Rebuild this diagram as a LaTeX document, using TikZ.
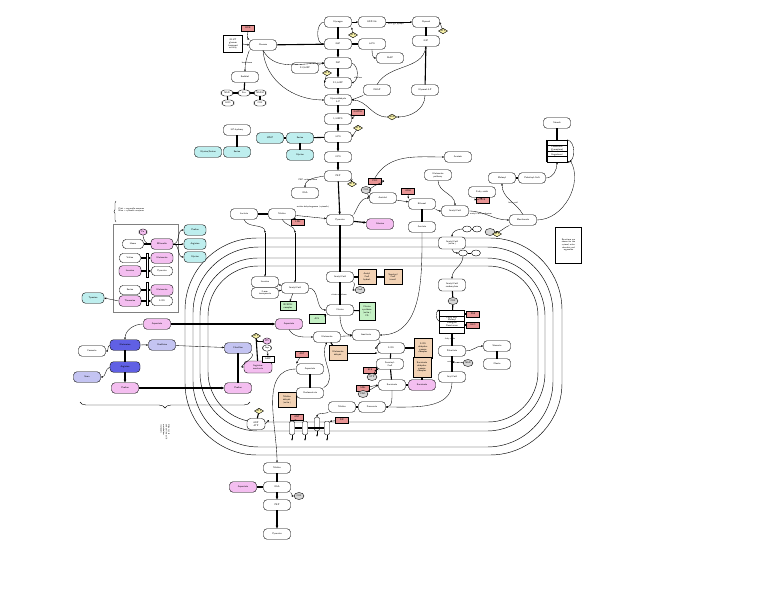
\documentclass[tikz,border=0pt]{standalone}
\usetikzlibrary{shapes.geometric,arrows.meta,decorations.pathreplacing}
\definecolor{cyn}{HTML}{BEEEEE}
\definecolor{pnk}{HTML}{F4BEF0}
\definecolor{lav}{HTML}{C4C4F2}
\definecolor{dbl}{HTML}{6060E4}
\definecolor{redb}{HTML}{E89494}
\definecolor{tanb}{HTML}{F2D2B4}
\definecolor{grnb}{HTML}{C4F0C4}
\definecolor{gryc}{HTML}{D8D8D8}
\definecolor{yelw}{HTML}{F6F0A8}
\begin{document}
\begin{tikzpicture}[x=1pt,y=-1pt,
 base/.style={draw, line width=0.4pt, font=\sffamily\fontsize{2.4}{2.8}\selectfont, align=center, inner sep=0.5pt},
 met/.style={base, rounded corners=3.5pt, fill=white, minimum width=27pt, minimum height=10.5pt},
 sm/.style={met, minimum width=21pt, minimum height=9pt},
 cy/.style={met, fill=cyn},
 pk/.style={met, fill=pnk},
 lv/.style={met, fill=lav},
 db/.style={met, fill=dbl},
 rbox/.style={base, fill=redb, minimum width=13pt, minimum height=6pt},
 tbox/.style={base, fill=tanb, minimum width=18pt, minimum height=15pt},
 gbox/.style={base, fill=grnb, minimum width=16pt, minimum height=9pt},
 gc/.style={base, ellipse, fill=gryc, minimum width=10pt, minimum height=7pt},
 wc/.style={base, ellipse, fill=white, minimum width=9pt, minimum height=6pt},
 yd/.style={base, diamond, aspect=1.6, fill=yelw, minimum width=9pt, inner sep=0.3pt},
 lbl/.style={font=\sffamily\fontsize{2.2}{2.6}\selectfont, inner sep=0.5pt, align=center},
 thk/.style={line width=1.1pt},
 arr/.style={-{Stealth[length=2.2pt,width=1.8pt]}, line width=0.35pt},
 tarr/.style={thk, -{Stealth[length=3pt,width=2.6pt]}},
 chan/.style={base, rounded corners=1pt, fill=white, minimum width=5pt, minimum height=13pt}]
\useasboundingbox[fill=white] (0,0) rectangle (768,597);

% ---------- membranes ----------
\draw[line width=0.45pt, rounded corners=72pt] (185,238) rectangle (562,455);
\draw[line width=0.45pt, rounded corners=66pt] (193,247) rectangle (553,447);
\draw[line width=0.45pt, rounded corners=58pt] (200,258) rectangle (545,431);
\draw[line width=0.45pt, rounded corners=50pt] (208,266) rectangle (538,422);

% ---------- top: glycolysis ----------
\node[rbox] (r1) at (248,28) {HXK};
\node[base, fill=white, minimum width=19pt, minimum height=17pt, inner sep=1pt] (leg) at (233,44) {GLUT\\glucose\\transport\\activity};
\draw[line width=1.4pt] (leg.north west) -- (leg.south west);
\node[met] (glc) at (263,45) {Glucose};
\node[met] (c22) at (338,22) {Glycogen};
\node[met] (udp) at (372,22) {UDP-Glc};
\node[met] (gol) at (426,22) {Glycerol};
\node[lbl] (l1) at (396,24) {UDP-glc pyroph.};
\node[yd] (d1) at (353,35) {ATP};
\node[yd] (d2) at (443,31) {ATP};
\node[met] (c44) at (338,44) {G6P};
\node[met] (pg6) at (372,44) {6-PG};
\node[met] (ru5) at (390,58) {Ru5P};
\node[met] (g3k) at (426,41) {G3P};
\node[met] (c63) at (338,63) {F6P};
\node[met] (f26) at (305,68) {F-2,6-BP};
\node[yd] (d3) at (327,73) {ATP};
\node[met] (c83) at (338,83) {F-1,6-BP};
\node[lbl] (l2) at (358,78) {aldolase};
\node[met] (c100) at (338,100) {Glyceraldehyde\\3-P};
\node[met] (dhap) at (377,90) {DHAP};
\node[met] (g3p) at (425,90) {Glycerol-3-P};
\node[rbox] (r2) at (358,112) {GAPDH};
\node[yd] (d4) at (392,117) {NAD};
\node[met] (c119) at (338,119) {1,3-BPG};
\node[yd] (d5) at (358,128) {ATP};
\node[met] (c137) at (338,137) {3-PG};
\node[met] (c157) at (338,157) {2-PG};
\node[met] (c176) at (338,176) {PEP};
\node[yd] (d6) at (352,184) {ATP};

\node[lbl] (l3) at (247,63) {hexokinase};
\node[met] (sor) at (245,77) {Sorbitol};
\node[sm, minimum width=12pt, minimum height=6pt] (s1) at (227,93) {NAD};
\node[sm, minimum width=12pt, minimum height=6pt] (s2) at (244,93) {Fru};
\node[sm, minimum width=12pt, minimum height=6pt] (s3) at (260,93) {NADH};
\node[sm, minimum width=12pt, minimum height=6pt] (s4) at (228,103) {H2O};
\node[sm, minimum width=12pt, minimum height=6pt] (s5) at (260,103) {CO2};

% cyan
\node[met] (ph) at (237,130) {3-P-hydroxy};
\node[cy] (cy4) at (237,152) {Serine};
\node[cy] (cy5) at (208,152) {Glycine/Serine};
\node[cy] (cy1) at (270,138) {3PHP};
\node[cy] (cy2) at (300,138) {Serine};
\node[cy] (cy3) at (300,155) {Glycine};

% pyruvate area
\node[lbl] (l4) at (308,180) {PEP carboxykinase};
\node[met] (oaa1) at (305,193) {OAA};
\node[lbl] (l5) at (313,207) {malate dehydrogenase (cytosolic)};
\node[met] (lac) at (244,214) {Lactate};
\node[met] (mal1) at (282,214) {Malate};
\node[rbox] (r3) at (298,222) {LDH};
\node[met] (pyr) at (340,220) {Pyruvate};
\node[pk] (ala) at (380,224) {Alanine};
\node[rbox] (r4) at (375,181) {PDC};
\node[gc] (g1) at (366,190) {CO2};
\node[met] (acd) at (383,198) {Acetald.};
\node[rbox] (r5) at (408,191) {ADH};
\node[met] (eth) at (422,204) {Ethanol};
\node[met] (ac1) at (422,227) {Acetate};
\node[met] (ace) at (458,157) {Acetoin};
\node[met] (glp) at (438,175) {Glutamate\\pathway};
\node[met] (acc) at (455,211) {Acetyl-CoA};
\node[met] (fat) at (482,192) {Fatty acids};
\node[rbox] (r6) at (483,200) {ACS};
\node[met] (mal2) at (502,178) {Malonyl};
\node[met] (pal) at (532,178) {Palmitoyl-CoA};
\node[lbl] (l6) at (513,203) {fatty acid};
\node[lbl] (l7) at (481,214) {acetyl-CoA synthetase};
\node[met] (mev) at (523,220) {Mevalonate};
\node[met] (ster) at (557,123) {Sterols};
\node[base, fill=white, minimum width=20pt, minimum height=22pt, inner sep=1pt] (stk) at (557,151) {Lanosterol\\Zymosterol\\Fecosterol\\Ergosterol};
\draw[line width=1.2pt] (stk.north west) -- (stk.south west);
\draw (stk.north east) -- (stk.south east);
\foreach \yy in {145.5,151,156.5} {\draw[line width=0.3pt] (547,\yy) -- (567,\yy);}
\node[wc] (w1) at (467,229) {};
\node[wc] (w2) at (477,229) {};
\node[gc] (g2) at (490,232) {};
\node[yd] (d7) at (497,234) {ATP};
\node[base, fill=white, minimum width=26pt, minimum height=36pt, inner sep=1pt, font=\sffamily\fontsize{2.2}{2.7}\selectfont] (note) at (568.5,245) {Reactions are\\shown for the\\cytosol, mito-\\chondria and\\organelles};

% ---------- left box ----------
\draw[decorate, decoration={brace, amplitude=2pt}] (116,222) -- (116,201);
\node[lbl, align=left, anchor=west] (l8) at (118,210) {Pink = organelle enzymes\\Blue = cytosolic enzymes};
\draw[line width=0.4pt, draw=gray] (113,224) rectangle (178,312);
\node[pk, minimum width=8pt, minimum height=6pt] (pa) at (143,232) {Fe};
\node[sm] (b1) at (133,244) {Heme};
\node[pk, minimum width=22pt] (b2) at (162,244) {Biliverdin};
\node[cy, minimum width=22pt] (cb1) at (195,230) {Proline};
\node[cy, minimum width=22pt] (cb2) at (195,244) {Arginine};
\node[cy, minimum width=22pt] (cb3) at (195,257) {Glycine};
\node[sm] (b3) at (130,258) {Valine};
\node[pk, minimum width=22pt] (b4) at (130,271) {Leucine};
\node[pk, minimum width=22pt] (b5) at (162,258) {Glutamate};
\node[sm] (b6) at (162,271) {Pyruvate};
\node[sm] (b7) at (130,290) {Serine};
\node[pk, minimum width=22pt] (b8) at (130,301) {Threonine};
\node[pk, minimum width=22pt] (b9) at (162,290) {Glutamate};
\node[sm] (b10) at (162,301) {2-OG};
\node[cy, minimum width=22pt] (cb4) at (93,298) {Tyrosine};
\draw (146,253) rectangle (148.5,277);
\draw (146,282) rectangle (148.5,305);
\draw[thk] (b1) -- (b2);
\draw[arr] (pa) to[out=-90,in=180] (b2.west);
\draw[arr] (b2.east) to[out=0,in=180] (cb1.west);
\draw[arr] (b2.east) -- (cb2.west);
\draw[arr] (b2.east) to[out=0,in=180] (cb3.west);
\draw[thk] (b3.east) -- (146,258);
\draw[thk] (b4.east) -- (146,271);
\draw[tarr] (148.5,258) -- (b5.west);
\draw[tarr] (148.5,271) -- (b6.west);
\draw[thk] (b7.east) -- (146,290);
\draw[thk] (b8.east) -- (146,301);
\draw[tarr] (148.5,290) -- (b9.west);
\draw[tarr] (148.5,301) -- (b10.west);
\draw[arr] (b8.west) -- (cb4.east);

% ---------- left: pinks and blues ----------
\node[pk] (p4) at (157,324) {Aspartate};
\node[db, minimum width=30pt] (db1) at (125,345) {Glutamine};
\node[met] (npp) at (92,351) {Formate};
\node[lv] (lv1) at (162,345) {Ornithine};
\node[lv] (lv2) at (238,348) {Citrulline};
\node[db, minimum width=30pt] (db2) at (125,367) {Arginine};
\node[lv] (lv3) at (87,377) {Urea};
\node[pk] (p5) at (125,388) {Proline};
\node[pk] (p6) at (238,388) {Proline};
\node[pk, minimum width=28pt, minimum height=12pt] (p7) at (258,367) {Arginino-\\succinate};
\node[yd] (d8) at (256,336) {ATP};
\node[pk, minimum width=8pt, minimum height=6pt] (ps) at (267,341) {PPi};
\node[met, minimum width=9pt, minimum height=6pt] (ws) at (267,348) {Asp};
\node[base, fill=white, minimum width=12pt, minimum height=6pt] (bx) at (268,359) {AMP};
\node[pk] (p2) at (289,324) {Aspartate};

\draw[tarr] (p4) -- (p2);
\draw[arr] (p4.west) to[out=180,in=90] (db1.north);
\draw[thk] (db1) -- (db2);
\draw[tarr] (db2) -- (p5);
\draw[arr] (db1.west) to[out=200,in=0] (npp.east);
\draw[arr] (db2.west) to[out=200,in=0] (lv3.east);
\draw[arr] (db1.east) to[out=10,in=180] (lv1.west);
\draw[arr] (lv1) -- (lv2);
\draw[thk] (lv2) -- (p6);
\draw[tarr] (p5) -- (p6);
\draw[arr] (lv2.south east) to[out=-30,in=180] (p7.west);
\draw[thk] (d8) -- (p7);
\draw[arr] (ps.west) -- (256,341);
\draw[arr] (ws.south) -- (bx.north);
\draw[decorate, decoration={brace, amplitude=6pt, mirror}] (80,402) -- (250,402);
\node[lbl, rotate=-90, align=left] (l9) at (165,432) {Urea cycle\\and amino acid\\metabolism\\(cytosol)};

% ---------- mitochondrion ----------
\coordinate (t1) at (265,233);
\coordinate (t2) at (295,233);
\node[met] (nv) at (265,282) {Leucine};
\node[met] (nw) at (265,293) {2-oxo-\\isocaproate};
\node[met] (nx) at (295,288) {Acetyl-CoA};
\node[gbox] (gr1) at (288,306) {BCKDH\\complex};
\node[gbox] (gr2) at (317,319) {ACL};
\node[met] (ny) at (340,277) {Acetyl-CoA};
\node[tbox] (tn1) at (367,277) {Acetyl\\CoA\\hydrol.};
\node[tbox] (tn2) at (393,277) {Succinyl\\CoA\\transf.};
\node[gc] (g3) at (360,290) {CoA};
\node[lbl] (l10) at (339,295) {citrate synthase};
\node[met] (nz) at (340,310) {Citrate};
\node[gbox, minimum height=18pt] (gr3) at (367,311) {Citrate\\synthase\\(mito.)\\CS};
\node[met] (naa) at (327,337) {Glutamate};
\node[met] (nbb) at (366,335) {Isocitrate};
\node[tbox] (tn3) at (338,353) {Glutamate\\dehydr.};
\node[rbox] (r11) at (302,354) {AAT};
\node[met] (nmm) at (310,369) {Aspartate};
\node[tbox] (tn4) at (287,400) {Malate\\dehydr.\\(mito.)};
\node[met] (nnn) at (310,393) {Oxaloacetate};
\node[met] (nhh) at (391,348) {2-OG};
\node[met] (nii) at (390,364) {Succinyl-\\CoA};
\node[rbox] (r9) at (370,370) {SCS};
\node[gc] (g5) at (372,377) {GTP};
\node[met] (njj) at (392,385) {Succinate};
\node[rbox] (r10) at (363,388) {SDH};
\node[gc] (g6) at (363,394) {FAD};
\node[pk] (p3) at (422,385) {Succinate};
\node[tbox, minimum height=20pt] (tn5) at (423,348) {2-OG\\dehydro-\\genase\\complex};
\node[tbox, minimum height=20pt] (tn6) at (422,367) {Succinate\\dehydro-\\genase\\complex};
\node[met] (nkk) at (342,407) {Malate};
\node[met] (nll) at (372,407) {Fumarate};

% right inner
\node[met, minimum height=12pt] (nu) at (452,243) {Acetyl-CoA\\(mito.)};
\node[wc] (w3) at (463,253) {};
\node[wc] (w4) at (476,253) {};
\node[met, minimum height=12pt] (ncc) at (452,285) {Acetyl-CoA\\carboxylase};
\node[gc] (g7) at (453,301) {CO2};
\node[base, fill=white, minimum width=25pt, minimum height=23pt, inner sep=1pt] (stk2) at (452,321.5) {Fatty acyl\\Malonyl\\Elongase\\Desaturase};
\draw[line width=1.2pt] (stk2.north west) -- (stk2.south west);
\foreach \yy in {316,321.5,327} {\draw[line width=0.3pt] (439.5,\yy) -- (464.5,\yy);}
\node[rbox] (r7) at (473,314) {FAS};
\node[rbox] (r8) at (473,325) {ELO};
\node[lbl] (l11) at (450,339) {fatty acids};
\node[met] (ndd) at (452,351) {Palmitate};
\node[met] (nee) at (497,346) {Stearate};
\node[met] (nff) at (497,364) {Oleate};
\node[gc] (g8) at (468,363) {NAD};
\node[lbl] (l12) at (450,362) {oxid.};
\node[met] (ngg) at (452,377) {Acyl-CoA};

% membrane channels
\node[rbox] (r12) at (297,417) {ANT};
\node[rbox] (r13) at (342,420) {DIC};
\node[chan] (ch1) at (292,428) {};
\node[chan] (ch2) at (305,428) {};
\node[chan] (ch3) at (317,424) {};
\node[chan] (ch4) at (327,428) {};
\node[met, minimum width=18pt, minimum height=11pt] (noo) at (256,424) {ADP\\ATP};
\node[yd] (d9) at (259,411) {ATP};
\coordinate (nooE) at (269,420);

% bottom
\node[met] (nqq) at (277,468) {Malate};
\node[met] (nrr) at (277,487) {OAA};
\node[pk] (p8) at (243,487) {Aspartate};
\node[gc] (g9) at (299,496) {CO2};
\node[met] (nss) at (277,505) {PEP};
\node[met] (ntt) at (277,534) {Pyruvate};

% ---------- connectors: top ----------
\draw[thk] (glc) -- (c44);
\draw[arr] (r1.south) to[out=-90,in=150] (glc.north west);
\draw[arr] (leg.east) -- (glc.west);
\draw[thk] (c22) -- (c44);
\draw[tarr] (c44) -- (c63);
\draw[tarr] (c63) -- (c83);
\draw[tarr] (c83) -- (c100);
\draw[tarr] (c100) -- (c119);
\draw[tarr] (c119) -- (c137);
\draw[tarr] (c137) -- (c157);
\draw[tarr] (c157) -- (c176);
\draw[tarr] (c176) -- (pyr);
\draw[arr] (c22) -- (udp);
\draw[arr] (udp) -- (gol);
\draw[arr] (d1) -- (c22.south east);
\draw[arr] (c22.west) to[out=180,in=180] (c44.west);
\draw[thk] (c44) -- (pg6);
\draw[arr] (pg6.south) to[out=-90,in=180] (ru5.west);
\draw[thk] (gol) -- (g3k);
\draw[thk] (g3k) -- (g3p);
\draw[arr] (d2) -- (gol.east);
\draw[arr] (c63.east) to[out=-20,in=20] (c83.east);
\draw[arr] (f26) -- (c63.west);
\draw[arr] (d3) -- (c83.west);
\draw[arr] (glc.south) to[out=-60,in=180] (c63.west);
\draw[arr] (glc.south) to[out=-85,in=180] (c100.west);
\draw[arr] (dhap) -- (c100.east);
\draw[arr] (dhap.north) to[out=60,in=-100] (g3k.south);
\draw[arr] (g3p.south) to[out=-90,in=0] (d4.east);
\draw[arr] (d4.west) to[out=180,in=0] (c100.east);
\draw[arr] (r2) -- (c119.east);
\draw[arr] (d5) -- (c137.east);
\draw[arr] (d6) -- (c176.south east);
\draw[arr] (glc.south west) to[out=-110,in=90] (sor.north);
\draw[thk] (sor) -- (s2);
\draw[thk] (s1) -- (s2) -- (s3);
\draw[thk] (s4) -- (s1);
\draw[thk] (s5) -- (s3);

% cyan
\draw[thk] (ph) -- (cy4);
\draw[thk] (cy1) -- (cy2);
\draw[thk] (cy2) -- (c137);
\draw[thk] (cy2) -- (cy3);

% pyruvate
\draw[arr] (c176.west) to[out=190,in=90] (oaa1.north);
\draw[thk] (lac) -- (mal1);
\draw[arr] (mal1) -- (pyr);
\draw[arr] (r3) -- (mal1.south east);
\draw[tarr] (pyr) -- (ala);
\draw[arr] (pyr.north east) to[out=60,in=180] (acd.west);
\draw[arr] (g1) -- (acd.west);
\draw[arr] (acd.north west) to[out=120,in=0] (r4.east);
\draw[arr] (r4.north) to[out=60,in=180] (ace.west);
\draw[arr] (acd) -- (eth);
\draw[arr] (r5) -- (eth.north west);
\draw[thk] (eth) -- (ac1);
\draw[arr] (glp.south) to[out=-90,in=90] (acc.north);
\draw[arr] (eth.south east) to[out=-20,in=180] (acc.west);
\draw[arr] (acc.east) to[out=0,in=180] (mev.west);
\draw[arr] (fat.south) to[out=-60,in=160] (r6.west);
\draw[arr] (mev.north) to[out=120,in=-90] (mal2.south);
\draw[thk] (mal2) -- (pal);
\draw[arr] (pal.east) to[out=0,in=-90] (stk.south);
\draw[thk] (ster) -- (stk);
\draw[arr] (stk.north east) to[out=-10,in=10] (stk.south east);
\draw[arr] (mev.east) to[out=0,in=-60] (570,160);
\draw[arr] (mev.south west) to[out=200,in=0] (g2.east);
\draw (w1) -- (w2);
\draw[arr] (w1.west) to[out=180,in=90] (nu.north);

% crossings
\draw[thk] (pyr) -- (ny);
\draw[arr] (ac1.south) to[out=-90,in=0] (nbb.east);
\draw[arr] (t1) -- (nv);
\draw[arr] (t2) -- (nx);
\draw[arr] (lac.south) to[out=-70,in=90] (t1);
\draw[arr] (mal1.south) to[out=-60,in=90] (t2);

% mito connectors
\draw[arr] (nv) -- (nx);
\draw[arr] (nw) -- (nx);
\draw[arr] (nx) -- (gr1);
\draw[arr] (nx.east) to[out=0,in=180] (nz.west);
\draw[arr] (gr2) -- (nz.south west);
\draw[thk] (ny) -- (nz);
\draw[thk] (ny) -- (tn1);
\draw[thk] (tn1) -- (tn2);
\draw[arr] (ny.south east) to[out=-30,in=180] (g3.west);
\draw[thk] (gr3) -- (nz);
\draw[arr] (nz.south) to[out=-90,in=180] (nbb.west);
\draw[arr] (p2.south) to[out=-60,in=180] (naa.west);
\draw[arr] (naa) -- (nbb);
\draw[arr] (nbb.south east) to[out=-30,in=180] (nhh.west);
\draw[thk] (nhh) -- (nii);
\draw[thk] (nii) -- (njj);
\draw[thk] (njj) -- (p3);
\draw[thk] (tn5) -- (nhh);
\draw[thk] (tn6) -- (p3);
\draw[arr] (r9) -- (nii.south west);
\draw[arr] (g5) -- (nii.south west);
\draw[arr] (r10) -- (njj.west);
\draw[arr] (g6) -- (njj.west);
\draw[arr] (njj.south) to[out=-90,in=0] (nll.east);
\draw[thk] (nll) -- (nkk);
\draw[arr] (nkk.south west) to[out=200,in=90] (ch3.north);
\draw[arr] (nnn.north east) to[out=30,in=-120] (naa.south);
\draw[thk] (nnn) -- (nmm);
\draw[thk] (tn4) -- (nnn);
\draw[arr] (r11) -- (nmm.north west);
\draw[thk] (tn3) -- (naa);
\draw[arr] (nmm.west) to[out=180,in=90] (nqq.north);
\draw[arr] (ngg.south) to[out=-90,in=0] (nll.east);

% right inner
\draw[arr] (nu.south) to[out=-90,in=180] (w3.west);
\draw (w3) -- (w4);
\draw[arr] (w3.south) to[out=-90,in=90] (ncc.north);
\draw[thk] (ncc) -- (g7);
\draw[thk] (g7) -- (stk2);
\draw[thk] (stk2.east |- r7) -- (r7);
\draw[thk] (stk2.east |- r8) -- (r8);
\draw[arr] (stk2.west) to[out=150,in=-150] (stk2.north west);
\draw[thk] (stk2) -- (ndd);
\draw[arr] (ndd.east) to[out=0,in=180] (nee.west);
\draw[thk] (nee) -- (nff);
\draw[thk] (ndd) -- (ngg);
\draw[arr] (g8) -- (452,362);
\draw[arr] (tn3.east) -- (nhh.west |- tn3.east);

% channels
\draw[thk] (ch1) -- (ch2) -- (ch4);
\draw[arr] (r12) -- (ch1.north east);
\draw[arr] (r13) -- (ch4.north east);
\foreach \cc in {ch1,ch2,ch3,ch4} {\draw[arr] (\cc.south) -- ++(0,6);}
\draw[thk] (d9) -- (noo);
\draw[arr] (noo.east) -- (nooE);

% bottom
\draw[thk] (nqq) -- (nrr);
\draw[thk] (p8) -- (nrr);
\draw[tarr] (nrr) -- (nss);
\draw[arr] (nrr.south east) to[out=-30,in=180] (g9.west);
\draw[tarr] (nss) -- (ntt);
\end{tikzpicture}
\end{document}
